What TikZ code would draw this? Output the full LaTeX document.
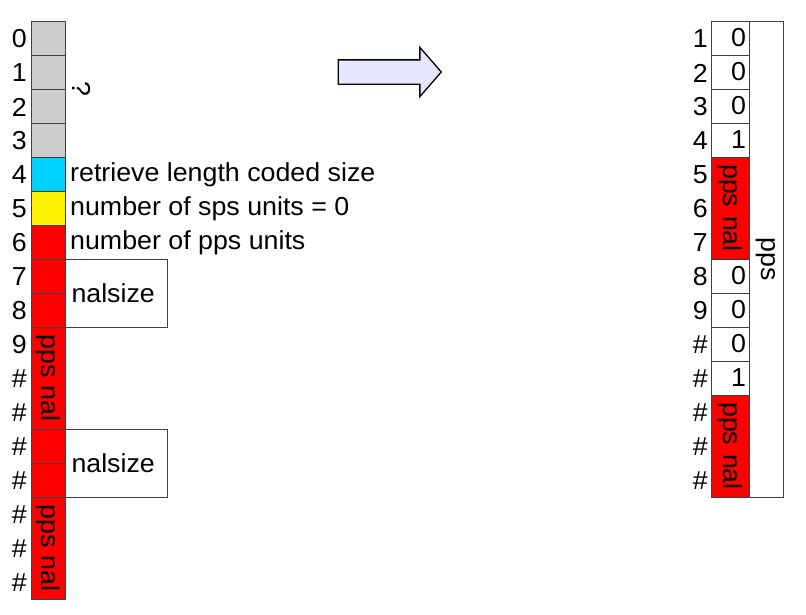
\documentclass[tikz,border=0pt]{standalone}
\usepackage{fontspec}
\setmainfont[FakeStretch=1.03]{Liberation Sans}
\usetikzlibrary{shapes}
\usetikzlibrary{shapes.arrows}
\usetikzlibrary{positioning}
\definecolor{cellgray}{RGB}{204,204,204}
\definecolor{cellcyan}{RGB}{0,210,255}
\definecolor{lineg}{RGB}{64,64,64}
\definecolor{arrowfill}{RGB}{230,230,255}
\tikzset{
    cell/.style = {rectangle, draw=lineg, line width=1pt, minimum width=34pt, minimum height=34pt, inner sep=0pt},
    cellg/.style = {cell, fill=cellgray},
    cellc/.style = {cell, fill=cellcyan},
    celly/.style = {cell, fill=yellow},
    cellr/.style = {cell, fill=red},
    nalr/.style = {cellr, minimum height=102pt},
    cellw/.style = {cell, minimum width=38pt, text width=32pt, inner xsep=3pt, align=right},
    nalw/.style = {cellw, fill=red, align=center, minimum height=102pt},
    sizebox/.style = {cell, anchor=north west, minimum width=102pt, minimum height=68pt, text width=90pt, inner xsep=6pt, align=left},
    rowlab/.style = {anchor=east, inner sep=0pt},
    note/.style = {anchor=west, inner sep=0pt},
    bigarrow/.style = {single arrow, draw=black, line width=1.3pt, fill=arrowfill, minimum height=103pt, inner xsep=0pt, inner ysep=11.5pt, single arrow head extend=12.5pt, single arrow tip angle=98}
}

\begin{document}
\begin{tikzpicture}[x=1pt,y=-1pt,font=\fontsize{26}{30}\selectfont]
\useasboundingbox (0,0) rectangle (806,614);
% left: the stream as it comes in
\node[cellg] at (48,38) (g0) {};
\node[cellg] at (48,72) (g1) {};
\node[cellg] at (48,106) (g2) {};
\node[cellg] at (48,140) (g3) {};
\node[cellc] at (48,174) (c4) {};
\node[celly] at (48,208) (c5) {};
\node[cellr] at (48,242) (c6) {};
\node[cellr] at (48,276) (c7) {};
\node[cellr] at (48,310) (c8) {};
\node[nalr] at (48,378) (n1) {\rotatebox{-90}{pps nal}};
\node[cellr] at (48,446) (c12) {};
\node[cellr] at (48,480) (c13) {};
\node[nalr] at (48,548) (n2) {\rotatebox{-90}{pps nal}};
\foreach \t [count=\i from 0] in {0,1,2,3,4,5,6,7,8,9,\#,\#,\#,\#,\#,\#,\#}
    \node[rowlab] (l\i) at (27,{39+34*\i}) {\t};
%
\node at (82,89) (q) {\rotatebox{-90}{?}};
\node[note] at (70,175) (t4) {retrieve length coded size};
\node[note] at (70,209) (t5) {number of sps units = 0};
\node[note] at (70,243) (t6) {number of pps units};
\node[sizebox] at (65,259) (s1) {nalsize};
\node[sizebox] at (65,429) (s2) {nalsize};
%
\node[bigarrow] at (384.5,72) (arr) {};
% right: the stream after conversion
\node[cellw] at (730,38) (w1) {0};
\node[cellw] at (730,72) (w2) {0};
\node[cellw] at (730,106) (w3) {0};
\node[cellw] at (730,140) (w4) {1};
\node[nalw] at (730,208) (p1) {\rotatebox{-90}{pps nal}};
\node[cellw] at (730,276) (w8) {0};
\node[cellw] at (730,310) (w9) {0};
\node[cellw] at (730,344) (w10) {0};
\node[cellw] at (730,378) (w11) {1};
\node[nalw] at (730,446) (p2) {\rotatebox{-90}{pps nal}};
\node[cell, minimum height=476pt] at (766,259) (pps) {\rotatebox{-90}{pps}};
\foreach \t [count=\i] in {1,2,3,4,5,6,7,8,9,\#,\#,\#,\#,\#}
    \node[rowlab] (r\i) at (708,{5+34*\i}) {\t};
\end{tikzpicture}
\end{document}
